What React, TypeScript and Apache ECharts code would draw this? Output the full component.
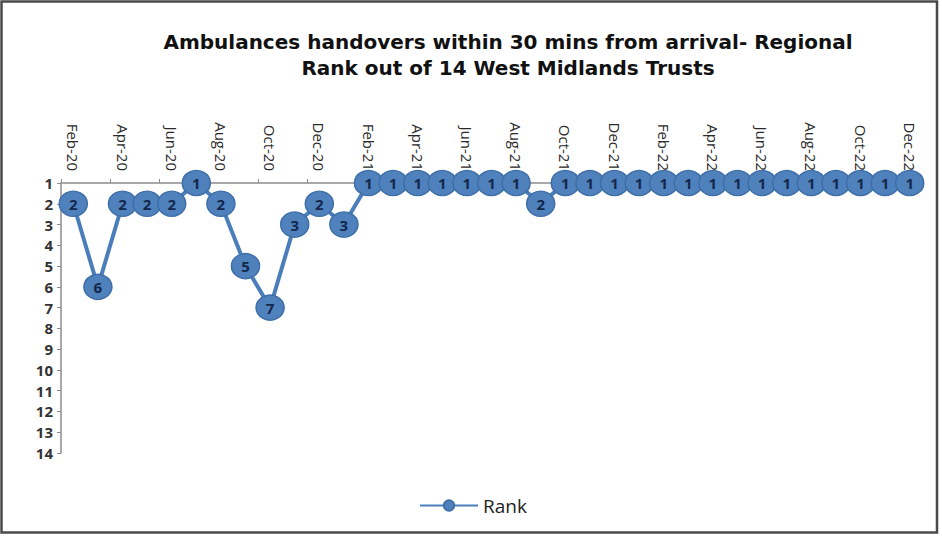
import React, { useEffect, useRef } from "react";
import * as echarts from "echarts";

const months = [
  "Feb-20", "Mar-20", "Apr-20", "May-20", "Jun-20", "Jul-20", "Aug-20", "Sep-20", "Oct-20", "Nov-20", "Dec-20",
  "Jan-21", "Feb-21", "Mar-21", "Apr-21", "May-21", "Jun-21", "Jul-21", "Aug-21", "Sep-21", "Oct-21", "Nov-21", "Dec-21",
  "Jan-22", "Feb-22", "Mar-22", "Apr-22", "May-22", "Jun-22", "Jul-22", "Aug-22", "Sep-22", "Oct-22", "Nov-22", "Dec-22",
];
const rank = [
  2, 6, 2, 2, 2, 1, 2, 5, 7, 3, 2,
  3, 1, 1, 1, 1, 1, 1, 1, 2, 1, 1, 1,
  1, 1, 1, 1, 1, 1, 1, 1, 1, 1, 1, 1,
];
const titleText = "Ambulances handovers within 30 mins from arrival- Regional\nRank out of 14 West Midlands Trusts";
const seriesName = "Rank";

export default function App() {
  const ref = useRef<HTMLDivElement>(null);
  useEffect(() => {
    if (!ref.current) return;
    const chart = echarts.init(ref.current, null, { renderer: "svg" });
    const font = "'Open Sans', 'Liberation Sans', sans-serif";
    const titleFont = "'DejaVu Sans', 'Open Sans', sans-serif";
    chart.setOption({
      animation: false,
      backgroundColor: "#ffffff",
      textStyle: { fontFamily: font },
      title: {
        text: titleText,
        left: 503,
        textAlign: "center",
        top: 24,
        textStyle: { fontSize: 20, fontWeight: "bold", color: "#111", lineHeight: 26, fontFamily: titleFont },
      },
      legend: {
        left: 414,
        top: 491,
        itemWidth: 58,
        itemHeight: 13,
        textStyle: { fontSize: 19, color: "#222", fontFamily: font },
        data: [seriesName],
      },
      graphic: [
        {
          type: "rect",
          shape: { x: 1.5, y: 1.5, width: 935.5, height: 531 },
          style: { fill: "none", stroke: "#4a4a4a", lineWidth: 2.5 },
          silent: true,
        },
      ],
      grid: { left: 61, right: 20, top: 183, bottom: 83 },
      xAxis: {
        type: "category",
        data: months,
        position: "top",
        boundaryGap: true,
        axisLine: { show: true, lineStyle: { color: "#8c8c8c", width: 1.5 } },
        axisTick: { show: true, interval: 1, length: 4, lineStyle: { color: "#8c8c8c" } },
        axisLabel: {
          interval: 1,
          rotate: 90,
          fontSize: 15,
          color: "#2a2a2a",
          margin: 12,
          overflow: "none",
          width: 100,
          hideOverlap: false,
          fontFamily: font,
        },
        splitLine: { show: false },
      },
      yAxis: {
        type: "value",
        inverse: true,
        min: 1,
        max: 14,
        interval: 1,
        axisLine: { show: true, lineStyle: { color: "#8c8c8c", width: 1.5 } },
        axisTick: { show: true, length: 4, lineStyle: { color: "#8c8c8c" } },
        axisLabel: { fontSize: 15, fontWeight: "bold", color: "#333", margin: 8, fontFamily: font },
        splitLine: { show: false },
      },
      series: [
        {
          name: seriesName,
          type: "line",
          data: rank,
          symbol: "circle",
          showSymbol: true,
          showAllSymbol: true,
          symbolSize: [28, 25],
          lineStyle: { color: "#4a7ebb", width: 4 },
          itemStyle: { color: "#4f81bd", borderColor: "#3f6fa8", borderWidth: 1.5 },
          label: {
            show: true,
            position: "inside",
            fontSize: 15,
            fontWeight: "bold",
            color: "#14284b",
            fontFamily: font,
          },
          labelLayout: { hideOverlap: false },
        },
      ],
    });
    return () => chart.dispose();
  }, []);
  return (
    <div
      ref={ref}
      style={{ position: "fixed", left: 0, top: 0, width: 942, height: 536 }}
    />
  );
}
